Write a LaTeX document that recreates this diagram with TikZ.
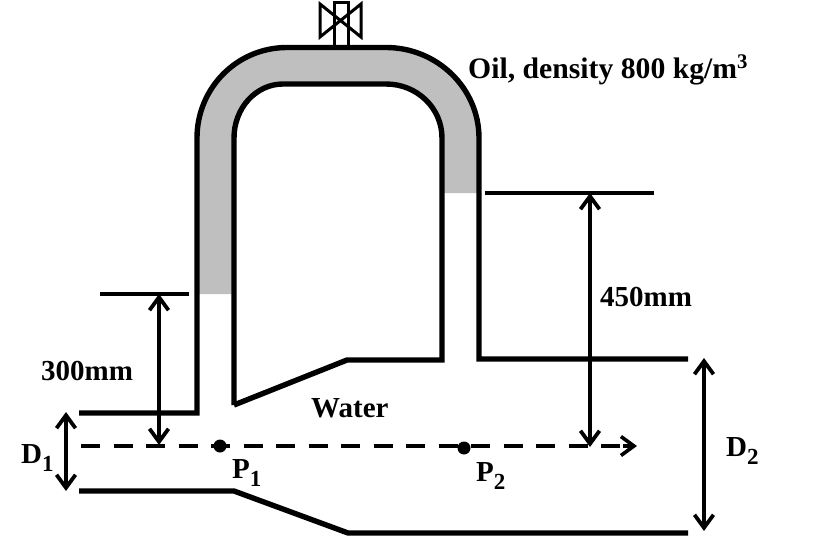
\documentclass[tikz,border=0pt]{standalone}
\usepackage{fontspec}
\setmainfont{Liberation Serif}
\usetikzlibrary{arrows.meta}
\newcommand{\subtxt}[1]{\raisebox{-0.28em}{\fontsize{23}{23}\selectfont #1}}
\tikzset{
  wall/.style={line width=5.4pt,line join=miter,line cap=butt,black},
  barb/.style={Straight Barb[length=13pt,width=19pt,line width=3.8pt]},
  dim/.style={line width=3.8pt,black,{Straight Barb[length=13pt,width=19pt,line width=3.8pt]}-{Straight Barb[length=13pt,width=19pt,line width=3.8pt]}},
  flow/.style={line width=3.6pt,black,dash pattern=on 19pt off 13.5pt},
  valve line/.style={line width=3pt,black,line join=miter},
  level/.style={line width=3.8pt,black},
  lbl/.style={anchor=base west,inner sep=0pt,font=\bfseries\fontsize{29}{29}\selectfont},
  dot/.style={circle,fill=black,inner sep=0pt,minimum size=13pt}
}
\begin{document}
\begin{tikzpicture}[x=1pt,y=-1pt]
\useasboundingbox (0,0) rectangle (828,551);
% oil
\fill[black!25] (197,294) -- (197,138) .. controls (197,88) and (237,47.5) .. (287,47.5) -- (386,47.5)
  .. controls (437,47.5) and (479,88) .. (479,138) -- (479,193) -- (442,193) -- (442,138)
  .. controls (442,108) and (417,84) .. (386,84) -- (283,84)
  .. controls (256,84) and (234,108) .. (234,138) -- (234,294) -- cycle;
% walls
\draw[wall] (79,413) -- (197,413) -- (197,138) .. controls (197,88) and (237,47.5) .. (287,47.5) -- (386,47.5)
  .. controls (437,47.5) and (479,88) .. (479,138) -- (479,359) -- (688,359);
\draw[wall] (234,405) -- (234,138) .. controls (234,108) and (256,84) .. (283,84) -- (386,84)
  .. controls (417,84) and (442,108) .. (442,138) -- (442,360) -- (347,360) -- (234,405);
\draw[wall] (79,491) -- (234,491) -- (348,533) -- (688,533);
% valve
\draw[valve line] (334,46) -- (334,3) -- (348,3) -- (348,46);
\draw[valve line] (320,4) -- (320,37) -- (361,4) -- (361,37) -- cycle;
% dimension end points
\coordinate (lvlA) at (159,294);
\coordinate (cA) at (159,445);
\coordinate (lvlB) at (590,193);
\coordinate (cB) at (590,447);
\coordinate (d1t) at (66,412);
\coordinate (d1b) at (66,491);
\coordinate (d2t) at (704,358);
\coordinate (d2b) at (704,531);
\coordinate (fs) at (81,446);
\coordinate (fe) at (637,446);
\coordinate (fb) at (623,446);
\draw[level] (100,294) -- (189,294);
\draw[level] (485,193) -- (654,193);
\draw[dim] (lvlA) -- (cA);
\draw[dim] (lvlB) -- (cB);
\draw[dim] (d1t) -- (d1b);
\draw[dim] (d2t) -- (d2b);
% centreline
\draw[flow] (fs) -- (fb);
\draw[line width=3.6pt,{Straight Barb[length=13pt,width=19pt,line width=3.6pt]}-] (fe) -- (fb);
\node[dot] (p1) at (220,446) {};
\node[dot] (p2) at (464,448) {};
% labels
\node[lbl,font=\bfseries\fontsize{29.7}{29.7}\selectfont] (oil) at (468,78) {Oil, density 800 kg/m\textsuperscript{3}};
\node[lbl] (h1) at (41,380) {300mm};
\node[lbl] (h2) at (600,306) {450mm};
\node[lbl] (water) at (311,417) {Water};
\node[lbl] (d1) at (21,463) {D\subtxt{1}};
\node[lbl] (d2) at (726,456) {D\subtxt{2}};
\node[lbl] (P1) at (232,478) {P\subtxt{1}};
\node[lbl] (P2) at (476,481) {P\subtxt{2}};
\end{tikzpicture}
\end{document}
